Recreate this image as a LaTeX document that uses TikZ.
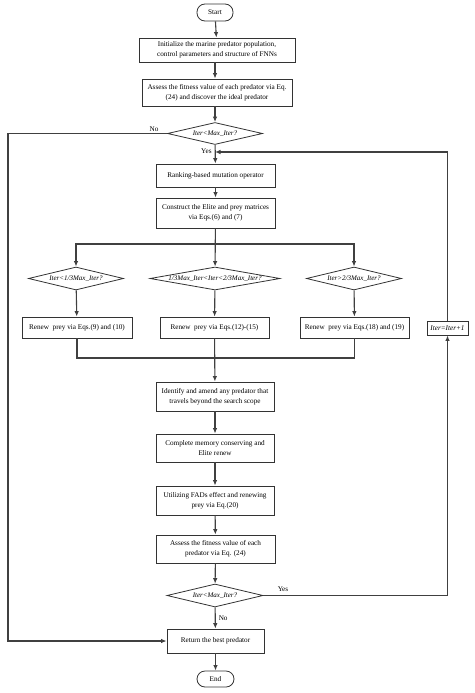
\documentclass[tikz,border=0pt]{standalone}
\usepackage{fontspec}
\setmainfont{Liberation Serif}
\usetikzlibrary{shapes.geometric}
\usetikzlibrary{arrows.meta}
\newcommand{\cnd}[1]{\makebox[0pt]{\itshape #1}}

\tikzset{
box/.style={draw=black!80, line width=0.8pt, align=center, inner sep=1pt,
  font=\fontsize{7.2}{9.6}\selectfont},
term/.style={box, rounded corners=8pt},
cond/.style={diamond, draw=black!80, line width=0.8pt, inner sep=0pt,
  font=\fontsize{7}{8}\selectfont},
flow/.style={draw=black!75, line width=1.1pt, -{Latex[length=5.5pt,width=4.5pt]}},
plain/.style={draw=black!75, line width=1.1pt},
lbl/.style={font=\fontsize{7.2}{8}\selectfont, inner sep=1pt}
}

\begin{document}
\begin{tikzpicture}[x=1pt,y=-1pt]
\useasboundingbox (0,0) rectangle (474,693);

\node[term, minimum width=36, minimum height=17] (start) at (215,12.5) {Start}; %top
\node[box, minimum width=156, minimum height=24] (init) at (217,50) {Initialize the marine predator population,\\control parameters and structure of FNNs};
\node[box, minimum width=150, minimum height=27] (fit1) at (217,92.5) {Assess the fitness value of each predator via Eq.\\(24) and discover the ideal predator};
\node[cond, minimum width=95, minimum height=22] (test1) at (215,133.5) {\cnd{Iter<Max\_Iter?}};
\node[box, minimum width=119, minimum height=23] (rank) at (215.5,175.5) {Ranking-based mutation operator};
\node[box, minimum width=119, minimum height=30] (elite) at (215.5,213) {Construct the Elite and prey matrices\\via Eqs.(6) and (7)};

\node[cond, minimum width=95, minimum height=23] (phase1) at (76,278.5) {\cnd{Iter<1/3Max\_Iter?}}; %phases
\node[cond, minimum width=130, minimum height=23] (phase2) at (215,278.5) {\cnd{1/3Max\_Iter<Iter<2/3Max\_Iter?}};
\node[cond, minimum width=95, minimum height=23] (phase3) at (354,278.5) {\cnd{Iter>2/3Max\_Iter?}};
\node[box, minimum width=110, minimum height=21] (prey1) at (77,327.5) {Renew\enspace prey via Eqs.(9) and (10)};
\node[box, minimum width=109, minimum height=21] (prey2) at (214.5,327.5) {Renew\enspace prey via Eqs.(12)-(15)};
\node[box, minimum width=109, minimum height=21] (prey3) at (354.5,327.5) {Renew\enspace prey via Eqs.(18) and (19)};
\node[box, minimum width=41, minimum height=14] (step) at (447.5,328) {\itshape Iter=Iter+1};

\node[box, minimum width=118, minimum height=29] (amend) at (215,396.5) {Identify and amend any predator that\\travels beyond the search scope};
\node[box, minimum width=118, minimum height=28] (memory) at (215,448) {Complete memory conserving and\\Elite renew};
\node[box, minimum width=118, minimum height=29] (fads) at (215,500.5) {Utilizing FADs effect and renewing\\prey via Eq.(20)};
\node[box, minimum width=119, minimum height=28] (fit2) at (215.5,549) {Assess the fitness value of each\\predator via Eq. (24)};
\node[cond, minimum width=96, minimum height=23] (test2) at (215,595.5) {\cnd{Iter<Max\_Iter?}};
\node[box, minimum width=97, minimum height=24] (best) at (215.5,641) {Return the best predator};
\node[term, minimum width=37, minimum height=16] (end) at (215.5,679) {End};

\coordinate (split) at (215,244); %junctions
\coordinate (merge) at (215,358);
\coordinate (back) at (215,152);
\coordinate (left) at (8,133.5);

\draw[flow] (start) -- (init);
\draw[flow] (init.south -| start) -- (fit1.north -| start);
\draw[flow] (fit1.south -| start) -- (test1);
\draw[flow] (test1) -- (rank) node[lbl, pos=0.35, left=2pt] {Yes};
\draw[flow] (rank) -- (elite);
\draw[flow] (elite) -- (phase2);
\draw[flow] (split) -| (phase1);
\draw[flow] (split) -| (phase3);
\draw[flow] (phase1) -- (prey1);
\draw[flow] (phase2) -- (prey2);
\draw[flow] (phase3) -- (prey3);
\draw[plain] (prey1) |- (merge) -| (prey3);
\draw[flow] (prey2) -- (amend);
\draw[flow] (amend) -- (memory);
\draw[flow] (memory) -- (fads);
\draw[flow] (fads) -- (fit2);
\draw[flow] (fit2) -- (test2);
\draw[flow] (test2) -- (best) node[lbl, midway, right=2pt] {No};
\draw[flow] (best) -- (end);

\draw[flow] (test2.east) -- (test2 -| step) -- (step.south); %loop
\node[lbl] (yes2) at (283,589) {Yes};
\draw[flow] (step.north) |- (back);
\draw[flow] (test1.west) -- (left) |- (best.west); %exit
\node[lbl] (no1) at (154,129) {No};
\end{tikzpicture}
\end{document}
